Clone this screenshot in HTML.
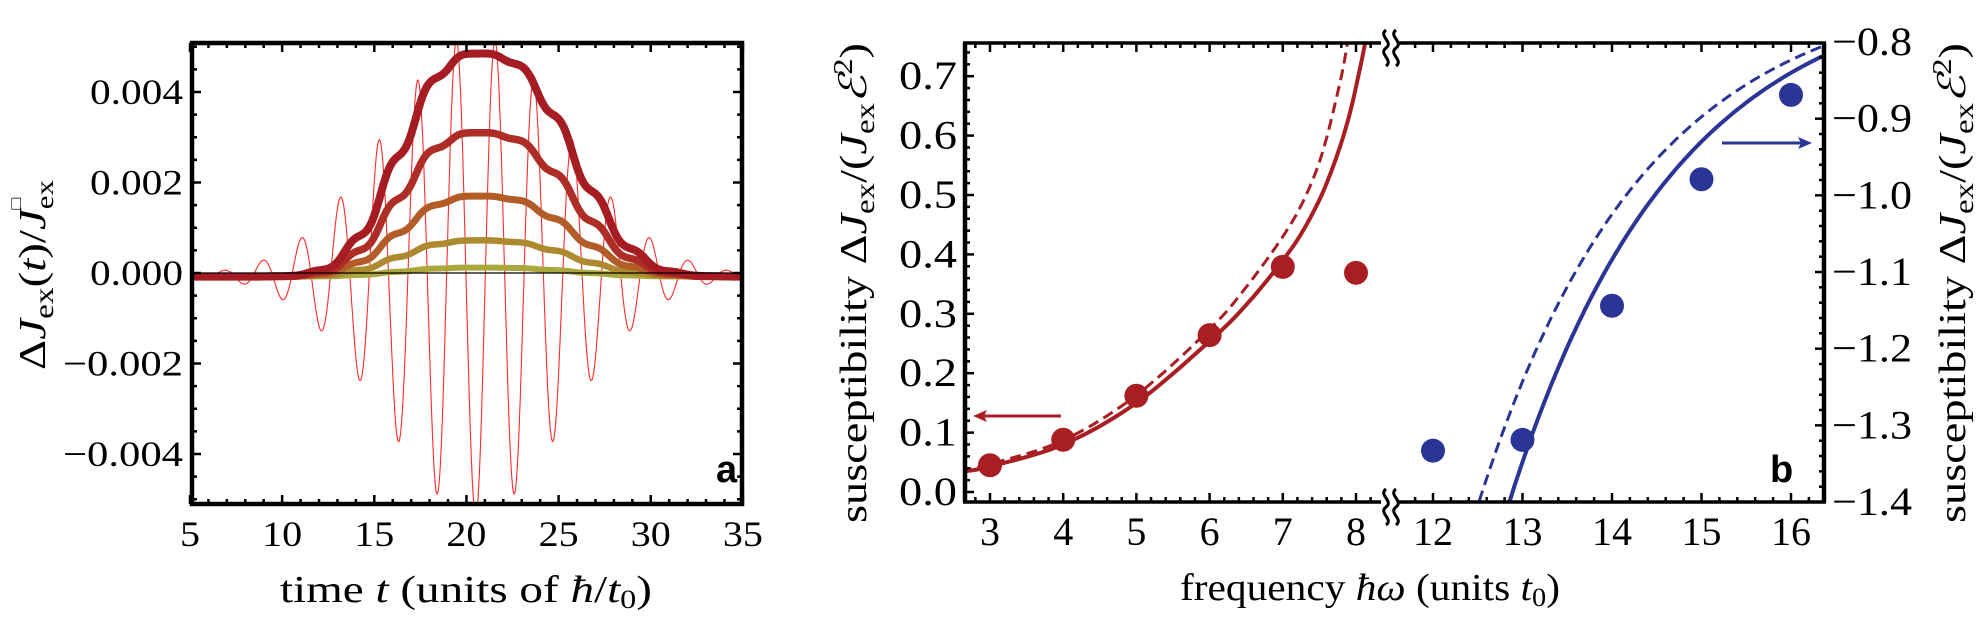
<!DOCTYPE html>
<html><head><meta charset="utf-8"><style>
html,body{margin:0;padding:0;background:#fff;}
svg{display:block;}
text{font-family:"Liberation Serif",serif;fill:#000;}
</style></head><body>
<svg id="s" width="1979" height="628" viewBox="0 0 1979 628" xmlns="http://www.w3.org/2000/svg">
<defs>
<clipPath id="ca"><rect x="192" y="43" width="550" height="461"/></clipPath>
<clipPath id="cb"><rect x="965" y="43" width="859" height="459"/></clipPath>
</defs>
<g id="pa" clip-path="url(#ca)"></g>
<g id="pb" clip-path="url(#cb)"></g>
<g id="ticks"></g>
<rect x="192" y="43" width="550" height="461" fill="none" stroke="#000" stroke-width="4.5"/>
<line x1="192" y1="273" x2="742" y2="273" stroke="#000" stroke-width="1.2"/>
<line x1="965" y1="43" x2="965" y2="502" stroke="#000" stroke-width="4.5"/>
<line x1="1824" y1="43" x2="1824" y2="502" stroke="#000" stroke-width="4.5"/>
<line x1="963" y1="43" x2="1381" y2="43" stroke="#000" stroke-width="3.5"/>
<line x1="1399" y1="43" x2="1826" y2="43" stroke="#000" stroke-width="3.5"/>
<line x1="963" y1="502" x2="1381" y2="502" stroke="#000" stroke-width="3.5"/>
<line x1="1399" y1="502" x2="1826" y2="502" stroke="#000" stroke-width="3.5"/>
<g fill="none" stroke="#000" stroke-width="3">
<path d="M1386,30 c-8,6 8,12 0,18 c-8,6 8,12 0,18"/>
<path d="M1396,30 c-8,6 8,12 0,18 c-8,6 8,12 0,18"/>
<path d="M1386,489 c-8,6 8,12 0,18 c-8,6 8,12 0,18"/>
<path d="M1396,489 c-8,6 8,12 0,18 c-8,6 8,12 0,18"/>
</g>
<line x1="1061" y1="416" x2="982" y2="416" stroke="#a81e23" stroke-width="3"/>
<path d="M973,416 L987,410 L984,416 L987,422 Z" fill="#a81e23"/>
<line x1="1722" y1="143" x2="1802" y2="143" stroke="#2b3595" stroke-width="3"/>
<path d="M1812,143 L1798,137 L1801,143 L1798,149 Z" fill="#2b3595"/>
<text x="716" y="482" font-weight="bold" font-size="38" style="font-family:'Liberation Sans',sans-serif">a</text>
<text x="1770" y="482" font-weight="bold" font-size="38" style="font-family:'Liberation Sans',sans-serif">b</text>
<g id="labels"></g>
<text transform="translate(45,275) rotate(-90)" text-anchor="middle" font-size="38" textLength="190" lengthAdjust="spacingAndGlyphs">Δ<tspan font-style="italic">J</tspan><tspan font-size="27" dy="8">ex</tspan><tspan dy="-8">(</tspan><tspan font-style="italic">t</tspan>)/<tspan font-style="italic">J</tspan><tspan font-size="25" dy="8">ex</tspan><tspan font-size="16" dx="-24" dy="-32">□</tspan></text>
<text x="466" y="602" text-anchor="middle" font-size="38" textLength="372" lengthAdjust="spacingAndGlyphs">time <tspan font-style="italic">t</tspan> (units of <tspan font-style="italic">ħ</tspan>/<tspan font-style="italic">t</tspan><tspan font-size="26" dy="6">0</tspan><tspan dy="-6">)</tspan></text>
<text x="1370" y="600" text-anchor="middle" font-size="38" textLength="380" lengthAdjust="spacingAndGlyphs">frequency <tspan font-style="italic">ħω</tspan> (units <tspan font-style="italic">t</tspan><tspan font-size="26" dy="6">0</tspan><tspan dy="-6">)</tspan></text>
<text transform="translate(866,283) rotate(-90)" text-anchor="middle" font-size="38" textLength="480" lengthAdjust="spacingAndGlyphs">susceptibility Δ<tspan font-style="italic">J</tspan><tspan font-size="27" dy="8">ex</tspan><tspan dy="-8">/(</tspan><tspan font-style="italic">J</tspan><tspan font-size="27" dy="8">ex</tspan><tspan dy="-8" font-style="italic">ℰ</tspan><tspan font-size="27" dy="-14">2</tspan><tspan dy="14">)</tspan></text>
<text transform="translate(1965,283) rotate(-90)" text-anchor="middle" font-size="38" textLength="480" lengthAdjust="spacingAndGlyphs">susceptibility Δ<tspan font-style="italic">J</tspan><tspan font-size="27" dy="8">ex</tspan><tspan dy="-8">/(</tspan><tspan font-style="italic">J</tspan><tspan font-size="27" dy="8">ex</tspan><tspan dy="-8" font-style="italic">ℰ</tspan><tspan font-size="27" dy="-14">2</tspan><tspan dy="14">)</tspan></text>
</svg>
<script>
(function(){
var NS="http://www.w3.org/2000/svg";
function el(p,n,a,t){var e=document.createElementNS(NS,n);for(var k in a)e.setAttribute(k,a[k]);if(t!==undefined)e.textContent=t;p.appendChild(e);return e;}
var pa=document.getElementById('pa'),pb=document.getElementById('pb'),tk=document.getElementById('ticks'),lb=document.getElementById('labels');
function XA(t){return 190+(t-5)*18.43;}
function YA(v){return 273-v*45250;}
var d="";
for(var t=5;t<=35;t+=0.02){var x=t-20.5;var v=-0.0053*Math.exp(-x*x/(2*4.9*4.9))*Math.cos(2*Math.PI*x/2.1)-0.00005;d+=(d?"L":"M")+XA(t).toFixed(1)+","+YA(v).toFixed(1);}
el(pa,"path",{d:d,fill:"none",stroke:"#ff2a2a","stroke-width":"1.1"});
var P=[0.00012,0.00072,0.0017,0.0031,0.00485];
var C=["#aaa83c","#ad8a30","#b25c28","#ae2d26","#a51d23"];
var W=[6,6.5,7,7.5,8];
for(var i=0;i<5;i++){
 var s="";
 for(var t=5;t<=35;t+=0.04){
  var tt=t-0.22*Math.sin(2*Math.PI*(t-20.5)/2.1);
  var x=tt-20.7;var sc=x<0?5.3:6.2;
  var env=Math.exp(-Math.pow(Math.abs(x)/sc,2.6));
  var v=P[i]*env-0.00008*(1-env);
  s+=(s?"L":"M")+XA(t).toFixed(1)+","+YA(v).toFixed(1);
 }
 el(pa,"path",{d:s,fill:"none",stroke:C[i],"stroke-width":W[i],"stroke-linejoin":"round","stroke-linecap":"round"});
}
for(var t=5;t<=35;t+=1){var x=XA(t);var L=(t%5==0)?9:5;
 el(tk,"line",{x1:x,y1:43,x2:x,y2:43+L,stroke:"#000","stroke-width":"2.5"});
 el(tk,"line",{x1:x,y1:504,x2:x,y2:504-L,stroke:"#000","stroke-width":"2.5"});}
for(var k=-10;k<=10;k++){var v=k*0.0005;var y=YA(v);if(y<44||y>503)continue;var L=(k%4==0)?9:5;
 el(tk,"line",{x1:192,y1:y,x2:192+L,y2:y,stroke:"#000","stroke-width":"2.5"});
 el(tk,"line",{x1:742,y1:y,x2:742-L,y2:y,stroke:"#000","stroke-width":"2.5"});}
var ya=[["0.004",0.004],["0.002",0.002],["0.000",0],["\u22120.002",-0.002],["\u22120.004",-0.004]];
ya.forEach(function(a){el(lb,"text",{x:183,y:YA(a[1])+12,"text-anchor":"end","font-size":"36",textLength:a[0].length>5?120:93,lengthAdjust:"spacingAndGlyphs"},a[0]);});
for(var t=5;t<=35;t+=5){var s=String(t);el(lb,"text",{x:XA(t),y:546,"text-anchor":"middle","font-size":"36",textLength:s.length==1?20:40,lengthAdjust:"spacingAndGlyphs"},s);}
function XL(w){return 990+(w-3)*73.2;}
function XR(w){return 1433+(w-12)*89.5;}
function YL(v){return 492-594*v;}
function YR(v){return 42+(-0.8-v)*766.7;}
function cr(pts,fx,fy){var s="";for(var i=0;i<pts.length-1;i++){var p0=pts[Math.max(0,i-1)],p1=pts[i],p2=pts[i+1],p3=pts[Math.min(pts.length-1,i+2)];
 for(var j=0;j<=10;j++){var u=j/10,u2=u*u,u3=u2*u;
  var w=0.5*((2*p1[0])+(-p0[0]+p2[0])*u+(2*p0[0]-5*p1[0]+4*p2[0]-p3[0])*u2+(-p0[0]+3*p1[0]-3*p2[0]+p3[0])*u3);
  var v=0.5*((2*p1[1])+(-p0[1]+p2[1])*u+(2*p0[1]-5*p1[1]+4*p2[1]-p3[1])*u2+(-p0[1]+3*p1[1]-3*p2[1]+p3[1])*u3);
  s+=(s?"L":"M")+fx(w).toFixed(1)+","+fy(v).toFixed(1);}}return s;}
var RS=[[2.6,0.034],[3,0.043],[4,0.08],[5,0.15],[6,0.254],[6.5,0.315],[7,0.39],[7.3,0.445],[7.6,0.52],[7.9,0.63],[8.15,0.77]];
var RD=[[2.6,0.036],[3,0.047],[4,0.087],[5,0.163],[6,0.274],[6.5,0.345],[7,0.43],[7.3,0.495],[7.55,0.575],[7.8,0.7],[7.9,0.77]];
el(pb,"path",{d:cr(RS,XL,YL),fill:"none",stroke:"#a81e23","stroke-width":"4"});
el(pb,"path",{d:cr(RD,XL,YL),fill:"none",stroke:"#a81e23","stroke-width":"3","stroke-dasharray":"11,6"});
function blue(w0,c,b){var s="";var a=c-(-1.42);for(var w=w0;w<=16.4;w+=0.02){var v=c-a*Math.exp(-b*(w-w0));s+=(s?"L":"M")+XR(w).toFixed(1)+","+YR(v).toFixed(1);}return s;}
el(pb,"path",{d:blue(12.80,-0.715,0.54),fill:"none",stroke:"#2b3595","stroke-width":"4"});
el(pb,"path",{d:blue(12.46,-0.72,0.54),fill:"none",stroke:"#2b3595","stroke-width":"3","stroke-dasharray":"11,6"});
[[3,0.045],[4,0.088],[5,0.162],[6,0.264],[7,0.379],[8,0.369]].forEach(function(p){el(pb,"ellipse",{cx:XL(p[0]),cy:YL(p[1]),rx:12,ry:12,fill:"#a81e23"});});
[[12,-1.333],[13,-1.319],[14,-1.144],[15,-0.979],[16,-0.869]].forEach(function(p){el(pb,"ellipse",{cx:XR(p[0]),cy:YR(p[1]),rx:12,ry:12,fill:"#2b3595"});});
for(var k=0;k<=29;k++){var w=2.8+k*0.2;var x=XL(w);if(x<966||x>1378)continue;var L=(Math.abs(w-Math.round(w))<0.01)?9:5;
 el(tk,"line",{x1:x,y1:43,x2:x,y2:43+L,stroke:"#000","stroke-width":"2.5"});
 el(tk,"line",{x1:x,y1:502,x2:x,y2:502-L,stroke:"#000","stroke-width":"2.5"});}
for(var k=0;k<=25;k++){var w=11.6+k*0.2;var x=XR(w);if(x<1402||x>1822)continue;var L=(Math.abs(w-Math.round(w))<0.01)?9:5;
 el(tk,"line",{x1:x,y1:43,x2:x,y2:43+L,stroke:"#000","stroke-width":"2.5"});
 el(tk,"line",{x1:x,y1:502,x2:x,y2:502-L,stroke:"#000","stroke-width":"2.5"});}
for(var k=0;k<=38;k++){var v=k*0.02;var y=YL(v);if(y<44||y>501)continue;var L=(k%5==0)?9:5;
 el(tk,"line",{x1:965,y1:y,x2:965+L,y2:y,stroke:"#000","stroke-width":"2.5"});}
for(var k=0;k<=30;k++){var v=-1.4+k*0.02;var y=YR(v);if(y<44||y>501)continue;var L=(k%5==0)?9:5;
 el(tk,"line",{x1:1824,y1:y,x2:1824-L,y2:y,stroke:"#000","stroke-width":"2.5"});}
for(var k=0;k<=7;k++){el(lb,"text",{x:957,y:YL(k/10)+13,"text-anchor":"end","font-size":"40",textLength:58,lengthAdjust:"spacingAndGlyphs"},"0."+k);}
for(var k=0;k<=6;k++){var v=-0.8-k*0.1;var s="\u2212"+Math.abs(v).toFixed(1);el(lb,"text",{x:1832,y:YR(v)+13,"font-size":"40",textLength:80,lengthAdjust:"spacingAndGlyphs"},s);}
for(var w=3;w<=8;w++){el(lb,"text",{x:XL(w),y:545,"text-anchor":"middle","font-size":"40"},String(w));}
for(var w=12;w<=16;w++){el(lb,"text",{x:XR(w),y:545,"text-anchor":"middle","font-size":"40"},String(w));}
})();
</script>
</body></html>
